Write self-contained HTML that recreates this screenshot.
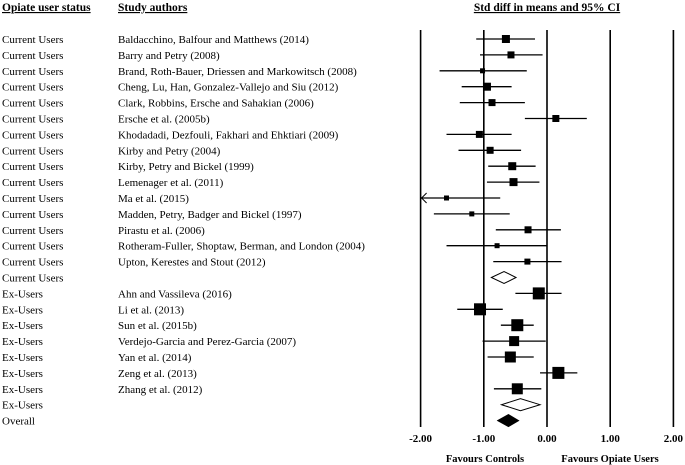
<!DOCTYPE html>
<html><head><meta charset="utf-8"><style>
body{margin:0;background:#fff;width:685px;height:465px;overflow:hidden}
svg{display:block;font-family:"Liberation Serif",serif}
</style></head><body>
<svg id="plot" width="685" height="465" viewBox="0 0 685 465"></svg>
<script>
const groups=["Current Users","Current Users","Current Users","Current Users","Current Users","Current Users","Current Users","Current Users","Current Users","Current Users","Current Users","Current Users","Current Users","Current Users","Current Users","Current Users","Ex-Users","Ex-Users","Ex-Users","Ex-Users","Ex-Users","Ex-Users","Ex-Users","Ex-Users","Overall"];
const studies=["Baldacchino, Balfour and Matthews (2014)","Barry and Petry  (2008)","Brand, Roth-Bauer, Driessen and Markowitsch (2008)","Cheng, Lu, Han, Gonzalez-Vallejo and Siu (2012)","Clark, Robbins, Ersche and Sahakian (2006)","Ersche et al. (2005b)","Khodadadi, Dezfouli, Fakhari and Ehktiari (2009)","Kirby and Petry (2004)","Kirby, Petry and Bickel (1999)","Lemenager et al. (2011)","Ma et al. (2015)","Madden, Petry, Badger and Bickel (1997)","Pirastu et al. (2006)","Rotheram-Fuller, Shoptaw, Berman, and London (2004)","Upton, Kerestes and Stout (2012)","","Ahn and Vassileva (2016)","Li et al. (2013)","Sun et al. (2015b)","Verdejo-Garcia and Perez-Garcia (2007)","Yan et al. (2014)","Zeng et al. (2013)","Zhang et al. (2012)","",""];
const est=[-0.65,-0.57,-1.02,-0.95,-0.87,0.14,-1.07,-0.90,-0.55,-0.53,-1.59,-1.19,-0.30,-0.79,-0.31,-0.68,-0.13,-1.06,-0.47,-0.52,-0.58,0.18,-0.47,-0.42,-0.61];
const lower=[-1.12,-1.06,-1.70,-1.35,-1.38,-0.35,-1.59,-1.40,-0.93,-0.95,-2.5,-1.79,-0.81,-1.59,-0.85,-0.88,-0.50,-1.42,-0.73,-1.02,-0.94,-0.11,-0.84,-0.72,-0.78];
const upper=[-0.19,-0.07,-0.32,-0.56,-0.35,0.63,-0.56,-0.41,-0.18,-0.12,-0.74,-0.59,0.22,0.00,0.23,-0.49,0.23,-0.70,-0.21,-0.02,-0.21,0.48,-0.09,-0.11,-0.45];
const weight=[8,7,5,8,7,7,7,7,8,8,5,5,7,5,6,0,12,12,12,10,11,12,11,0,0];
const kind=["s","s","s","s","s","s","s","s","s","s","s","s","s","s","s","d","s","s","s","s","s","s","s","d","f"];
const ticks=[-2,-1,0,1,2];
const tickLabels=["-2.00","-1.00","0.00","1.00","2.00"];
const svg=document.getElementById('plot');const NS="http://www.w3.org/2000/svg";
const xs=v=>547+63.2*v;const ys=i=>39+i*15.9;
function mk(t,a,txt){const e=document.createElementNS(NS,t);for(const k in a)e.setAttribute(k,a[k]);if(txt!==undefined)e.textContent=txt;svg.appendChild(e);return e;}
let e;
e=mk('text',{x:2,y:11,'font-size':11.5,'font-weight':'bold','text-decoration':'underline'},'Opiate user status');


e=mk('text',{x:118,y:11,'font-size':11.5,'font-weight':'bold','text-decoration':'underline'},'Study authors');


e=mk('text',{x:547,y:11,'font-size':11.5,'font-weight':'bold','text-decoration':'underline','text-anchor':'middle'},'Std diff in means and 95% CI');


ticks.forEach((t,i)=>{
 e=mk('line',{x1:xs(t),x2:xs(t),y1:30,y2:427,stroke:'#000','stroke-width':1.6});
 
 
 e=mk('text',{x:xs(t),y:442,'font-size':11,'font-weight':'bold','text-anchor':'middle'},tickLabels[i]);
 
 
});
e=mk('text',{x:485,y:462,'font-size':10.5,'font-weight':'bold','text-anchor':'middle'},'Favours Controls');


e=mk('text',{x:610,y:462,'font-size':10.5,'font-weight':'bold','text-anchor':'middle'},'Favours Opiate Users');


groups.forEach((g,i)=>{
 const y=ys(i);
 e=mk('text',{x:2,y:y+4,'font-size':11},g);
 
 
 if(studies[i]){e=mk('text',{x:118,y:y+4,'font-size':11},studies[i]);
 
 }
 const c=xs(est[i]);
 if(kind[i]==='s'){
  const lo=Math.max(lower[i],-2);
  e=mk('line',{x1:xs(lo),x2:xs(upper[i]),y1:y,y2:y,stroke:'#000','stroke-width':1.3});
  
  
  if(lower[i]<-2){e=mk('path',{d:`M${xs(-2)+6},${y-5} L${xs(-2)+1},${y} L${xs(-2)+6},${y+5}`,fill:'none',stroke:'#000','stroke-width':1});
  
  }
  const s=weight[i];
  e=mk('rect',{x:c-s/2,y:y-s/2,width:s,height:s,fill:'#000'});
  
  
 }else{
  const filled=kind[i]==='f';
  e=mk('path',{d:`M${xs(lower[i])},${y} L${c},${y-6} L${xs(upper[i])},${y} L${c},${y+6} Z`,fill:filled?'#000':'#fff',stroke:'#000','stroke-width':1});
  
  
 }
});
</script>
</body></html>
